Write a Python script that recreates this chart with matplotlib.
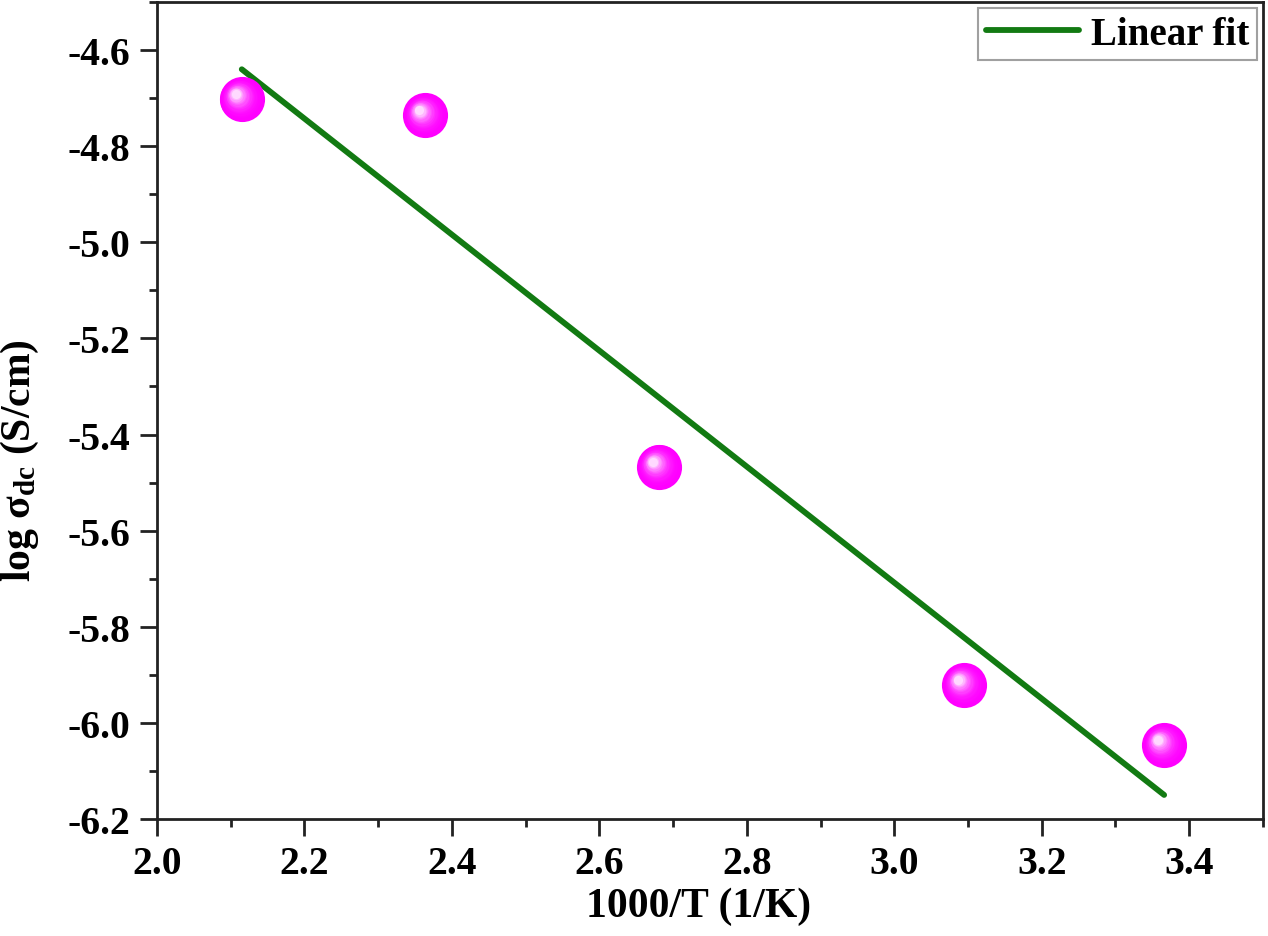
import numpy as np
import matplotlib.pyplot as plt
from matplotlib.transforms import offset_copy

# data
inv_T = [2.115, 2.364, 2.681, 3.095, 3.366]
log_sigma = [-4.702, -4.736, -5.467, -5.921, -6.046]
fit_x = [2.115, 3.366]
fit_y = [-4.640, -6.150]
xticks = [2.0, 2.2, 2.4, 2.6, 2.8, 3.0, 3.2, 3.4]
yticks = [-6.2, -6.0, -5.8, -5.6, -5.4, -5.2, -5.0, -4.8, -4.6]

plt.rcParams['font.family'] = ['Liberation Serif', 'DejaVu Serif']
plt.rcParams['font.weight'] = 'bold'
plt.rcParams['mathtext.fontset'] = 'custom'
plt.rcParams['mathtext.rm'] = 'Liberation Serif:bold'
plt.rcParams['mathtext.it'] = 'Liberation Serif:bold'
plt.rcParams['mathtext.bf'] = 'Liberation Serif:bold'

fig = plt.figure(figsize=(12.68, 9.37), dpi=100)
ax = fig.add_axes([0.1238, 0.1249, 0.8722, 0.8719])

# linear fit
ax.plot(fit_x, fit_y, color='#127a12', lw=4.2, solid_capstyle='round',
        label='Linear fit', zorder=2)

# shaded spheres: stacked circles getting smaller / lighter toward the highlight
n = 16
diam = 32.5  # points
for k in range(n):
    t = k / n
    d = diam * (1 - 0.85 * t)
    mix = t ** 2.5
    col = (1.0, mix, 1.0)
    tr = offset_copy(ax.transData, fig=fig, x=-6.5 * t, y=5.5 * t, units='dots')
    ax.scatter(inv_T, log_sigma, s=d ** 2, color=col, lw=0, transform=tr,
               zorder=3 + k * 0.01)

ax.set_xlim(2.0, 3.5)
ax.set_ylim(-6.2, -4.5)
ax.set_xticks(xticks)
ax.set_yticks(yticks)
ax.set_xticklabels(['%.1f' % v for v in xticks])
ax.set_yticklabels(['%.1f' % v for v in yticks])
ax.xaxis.set_minor_locator(plt.MultipleLocator(0.1))
ax.yaxis.set_minor_locator(plt.MultipleLocator(0.1))

for s in ax.spines.values():
    s.set_linewidth(2.0)
    s.set_color('#222222')
ax.tick_params(which='major', direction='out', length=12, width=2.0,
               labelsize=28.5, pad=7, color='#222222')
ax.tick_params(which='minor', direction='out', length=6, width=2.0,
               color='#222222')
ax.tick_params(top=False, right=False, which='both')

ax.set_xlabel('1000/T (1/K)', fontsize=30, fontweight='bold')
ax.set_ylabel(r'log $\mathrm{\sigma_{dc}}$ (S/cm)', fontsize=30,
              fontweight='bold')
ax.xaxis.set_label_coords(0.49, -0.106)
ax.xaxis.label.set_va('center')
ax.yaxis.set_label_coords(-0.124, 0.44)
ax.yaxis.label.set_va('center')

leg = ax.legend(loc='upper right', fontsize=28, handlelength=2.4,
                frameon=True, fancybox=False, borderaxespad=0.15,
                handletextpad=0.3, borderpad=0.2)
leg.get_frame().set_edgecolor('#888888')
leg.get_frame().set_linewidth(1.5)

fig.savefig('out.png', dpi=100)
